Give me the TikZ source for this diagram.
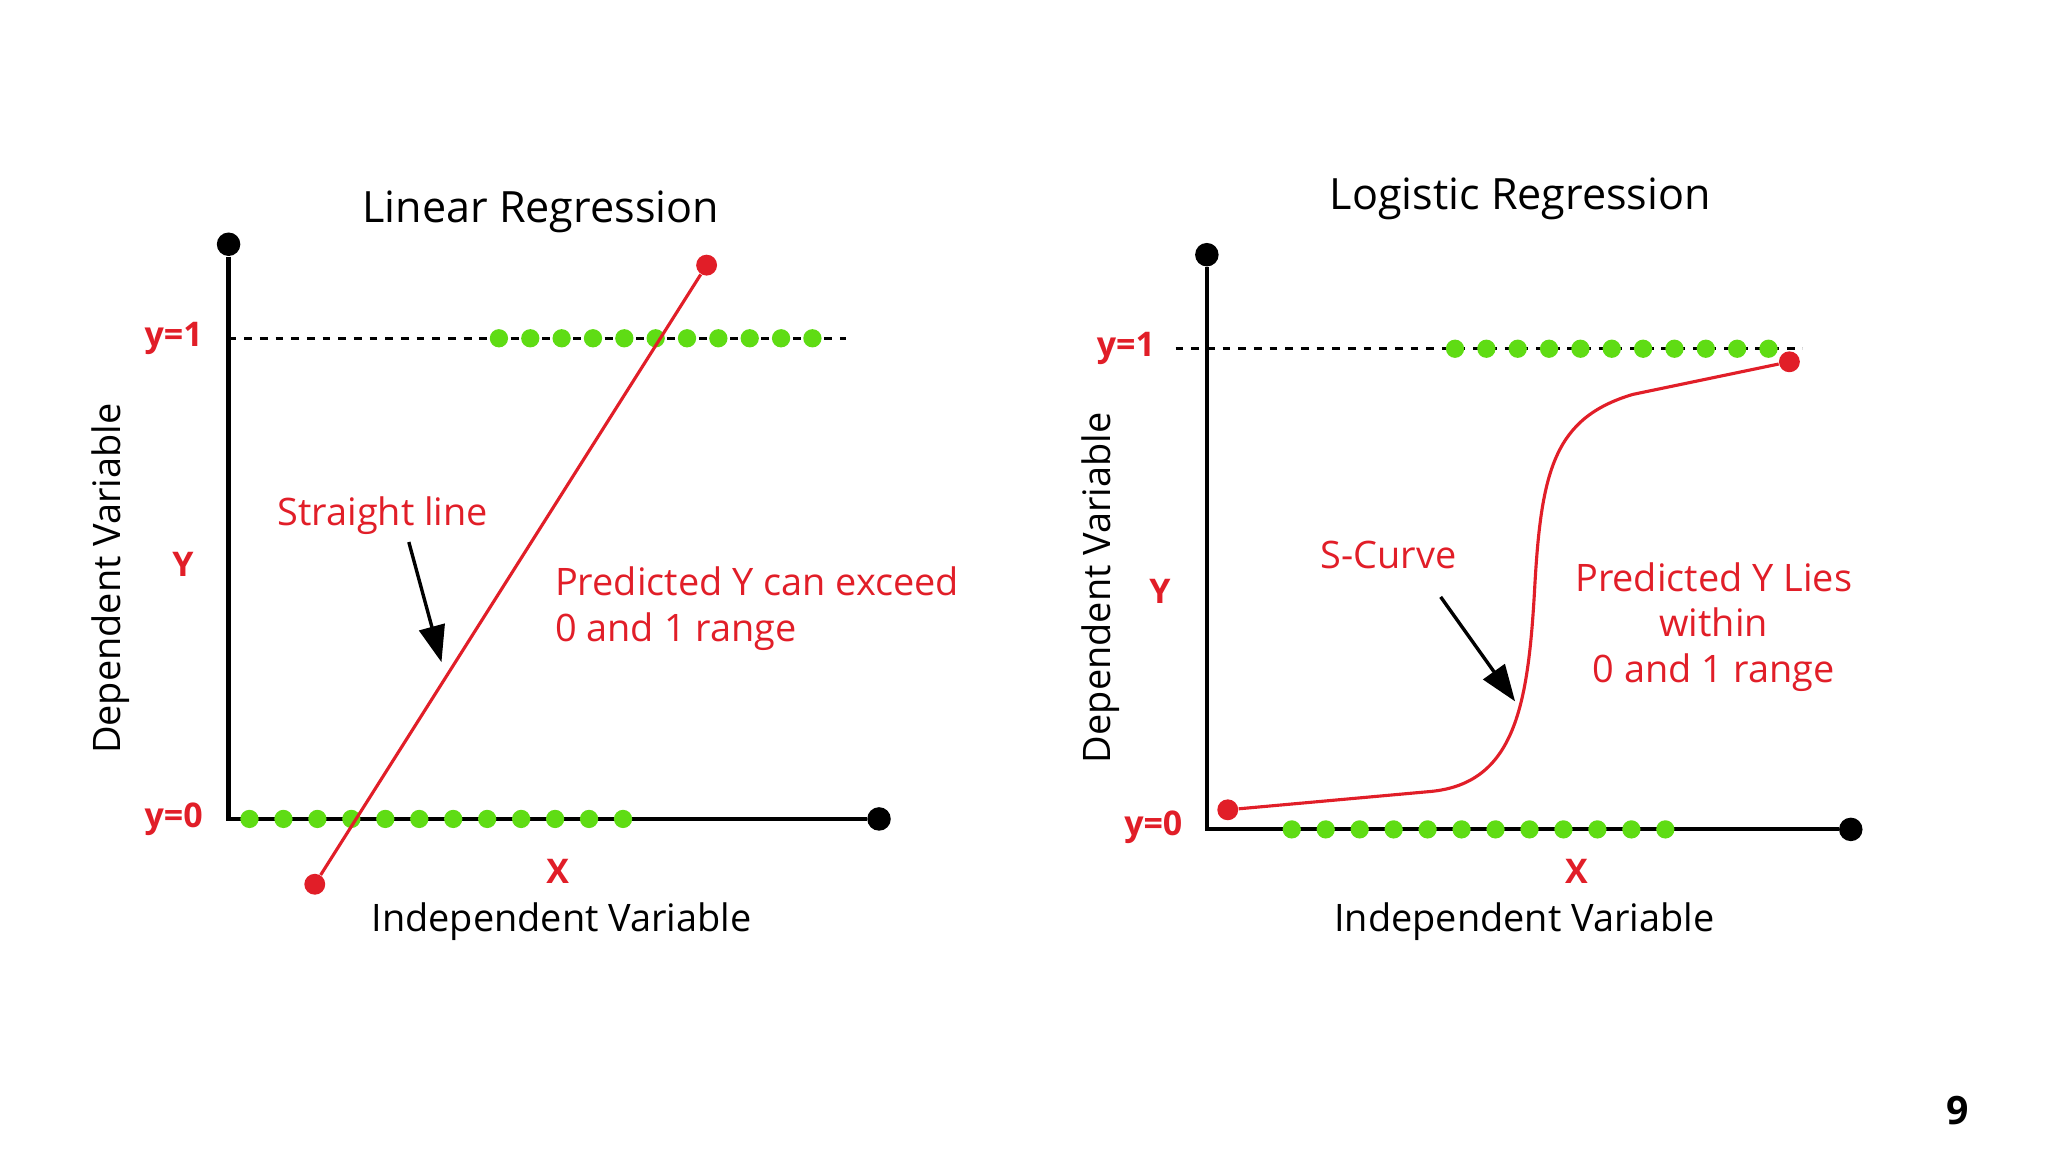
\documentclass[tikz,border=0pt]{standalone}
\usepackage{fontspec}
\setmainfont{Open Sans}
\usetikzlibrary{arrows.meta}
\definecolor{lred}{RGB}{225,30,40}
\definecolor{lgreen}{RGB}{95,220,20}
\begin{document}
\begin{tikzpicture}[x=0.5pt,y=-0.5pt,
  axis/.style={line width=1.6pt,black},
  dot/.style={circle,fill=lgreen,inner sep=0pt,minimum size=7pt},
  enddot/.style={circle,fill=black,inner sep=0pt,minimum size=9pt},
  reddot/.style={circle,fill=lred,inner sep=0pt,minimum size=8pt},
  lbl/.style={text=lred,font=\fontsize{14.5}{17.5}\selectfont},
  ylbl/.style={text=lred,font=\bfseries\fontsize{13}{15}\selectfont},
  title/.style={font=\fontsize{16.5}{19}\selectfont},
  axlbl/.style={font=\fontsize{14.5}{17}\selectfont},
  pointer/.style={-{Triangle[length=14pt,width=10pt]},line width=1.3pt}]
\useasboundingbox (0,0) rectangle (1568,882);

%Linear Regression
\node[enddot] (ltop) at (175,187) {};
\node[enddot] (lright) at (673,627) {};
\coordinate (lo) at (175,627);
\coordinate (l1a) at (175,259);
\coordinate (l1b) at (648,259);
\draw[axis] (ltop) -- (lo) -- (lright);
\draw[dashed,line width=1.1pt] (l1a) -- (l1b);
\foreach \i in {0,...,10} \node[dot] at (382+24*\i,259) {};
\foreach \i in {0,...,11} \node[dot] at (191+26*\i,627) {};
\node[reddot] (lstart) at (241,677) {};
\node[reddot] (lend) at (541,203) {};
\draw[lred,line width=1.2pt] (lstart) -- (lend);
\node[title] (ltitle) at (414,162) {Linear Regression};
\node[ylbl] (ly1) at (133,259) {y=1};
\node[ylbl] (ly0) at (133,627) {y=0};
\node[ylbl] (lY) at (140,432) {Y};
\node[axlbl,rotate=90] (ldep) at (85,443) {Dependent Variable};
\node[ylbl] (lX) at (427,667) {X};
\node[axlbl] (lind) at (430,706) {Independent Variable};
\node[lbl] (lstraight) at (293,395) {Straight line};
\coordinate (larrow) at (338,507);
\draw[pointer] (313,415) -- (larrow);
\node[lbl,align=left,anchor=west] (lpred) at (418,466) {Predicted Y can exceed\\0 and 1 range};

%Logistic Regression
\node[enddot] (rtop) at (924,195) {};
\node[enddot] (rright) at (1417,635) {};
\coordinate (ro) at (924,635);
\coordinate (r1a) at (900,267);
\coordinate (r1b) at (1380,267);
\draw[axis] (rtop) -- (ro) -- (rright);
\draw[dashed,line width=1.1pt] (r1a) -- (r1b);
\foreach \i in {0,...,10} \node[dot] at (1114+24*\i,267) {};
\foreach \i in {0,...,11} \node[dot] at (989+26*\i,635) {};
\node[reddot] (rstart) at (940,620) {};
\node[reddot] (rend) at (1370,277) {};
\draw[lred,line width=1.2pt] (rstart) -- (1095,606)
  .. controls (1160,600) and (1170,540) .. (1175,450)
  .. controls (1180,360) and (1190,320) .. (1250,302) -- (rend);
\node[title] (rtitle) at (1164,152) {Logistic Regression};
\node[ylbl] (ry1) at (862,267) {y=1};
\node[ylbl] (ry0) at (883,633) {y=0};
\node[ylbl] (rY) at (888,453) {Y};
\node[axlbl,rotate=90] (rdep) at (843,450) {Dependent Variable};
\node[ylbl] (rX) at (1207,667) {X};
\node[axlbl] (rind) at (1167,706) {Independent Variable};
\node[lbl] (rscurve) at (1063,425) {S-Curve};
\coordinate (rarrow) at (1160,537);
\draw[pointer] (1103,457) -- (rarrow);
\node[lbl,align=center] (rpred) at (1312,480) {Predicted Y Lies\\within\\0 and 1 range};

\node[font=\bfseries\fontsize{15}{18}\selectfont] (page) at (1499,850) {9};
\end{tikzpicture}
\end{document}
